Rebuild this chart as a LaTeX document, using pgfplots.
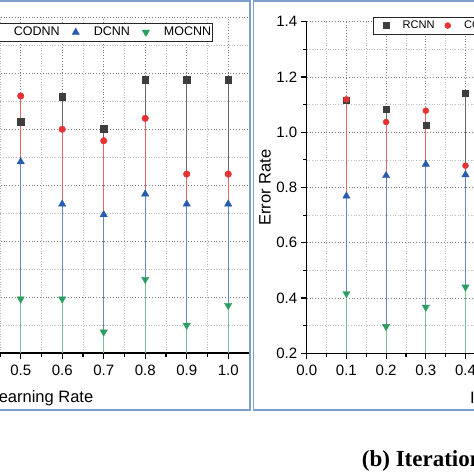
\documentclass[border=0pt]{standalone}
\usepackage{pgfplots}
\pgfplotsset{compat=1.18}
\usepackage{fontspec}
\setmainfont{Liberation Sans}
\newfontfamily\capfont{Liberation Serif}

\definecolor{cgray}{RGB}{62,62,62}
\definecolor{cgrayl}{RGB}{105,105,105}
\definecolor{cred}{RGB}{230,50,52}
\definecolor{credl}{RGB}{226,105,105}
\definecolor{cblue}{RGB}{38,92,172}
\definecolor{cbluel}{RGB}{105,135,188}
\definecolor{cgreen}{RGB}{42,158,96}
\definecolor{cgreenl}{RGB}{122,192,152}
\definecolor{cframe}{RGB}{128,158,205}

\pgfplotstableread{
x    rcnn  codnn dcnn  mocnn
0.5  1.026 1.118 0.883 0.393
0.6  1.116 0.999 0.732 0.393
0.7  1.000 0.958 0.694 0.275
0.8  1.175 1.038 0.768 0.463
0.9  1.175 0.839 0.732 0.299
1.0  1.175 0.839 0.732 0.370
}\lrdata

\pgfplotstableread{
x    rcnn  codnn dcnn  mocnn
0.1  1.117 1.119 0.769 0.416
0.2  1.084 1.037 0.843 0.297
0.3  1.026 1.078 0.884 0.367
0.4  1.143 0.879 0.846 0.440
}\itdata

\pgfplotsset{
  panel/.style={
    scale only axis, anchor=south west,
    xmin=0, xmax=1.1, ymin=0.2, ymax=1.4,
    axis x line*=bottom, axis y line*=left,
    axis line style={line width=1.3pt, black, -},
    xtick={0,0.1,0.2,0.3,0.4,0.5,0.6,0.7,0.8,0.9,1.0},
    ytick={0.2,0.4,0.6,0.8,1.0,1.2,1.4},
    minor x tick num=1, minor y tick num=1,
    tick align=outside,
    major tick length=6pt, minor tick length=3.5pt,
    every tick/.style={black, line width=1.2pt},
    grid=both,
    major grid style={black!50, line width=0.7pt, dash pattern=on 1pt off 1.8pt},
    minor grid style={black!25, line width=0.6pt, dash pattern=on 1pt off 1.6pt},
    /pgf/number format/assume math mode=true,
    /pgf/number format/fixed,
    /pgf/number format/fixed zerofill,
    /pgf/number format/precision=1,
    tick label style={font=\fontsize{15}{17}\selectfont},
    xticklabel style={yshift=-2.5pt},
    label style={font=\fontsize{16.5}{19}\selectfont},
    legend columns=-1,
    legend image code/.code={\path[draw=none,fill=none] (-5pt,-3pt) rectangle (5pt,3pt); \draw[##1] plot coordinates {(0pt,0pt)};},
  },
  stem/.style={ycomb, no markers, line width=0.9pt, forget plot},
  mgray/.style={only marks, mark=square*, mark size=3.3pt, mark options={fill=cgray, draw=cgray, line width=0.4pt}},
  mred/.style={only marks, mark=*, mark size=3.3pt, mark options={fill=cred, draw=cred, line width=0.4pt}},
  mblue/.style={only marks, mark=triangle*, mark size=4.2pt, mark options={fill=cblue, draw=cblue, line width=0.4pt}},
  mgreen/.style={only marks, mark=triangle*, mark size=4.2pt, mark options={fill=cgreen, draw=cgreen, line width=0.4pt, rotate=180}},
}

\begin{document}
\begin{tikzpicture}
\useasboundingbox (0pt,0pt) rectangle (474pt,474pt);
\clip (0pt,0pt) rectangle (474pt,474pt);
\fill[white] (0pt,0pt) rectangle (474pt,474pt);

% left panel (Learning Rate)
\begin{scope}
\clip (-300pt,64pt) rectangle (250pt,474pt);
\begin{axis}[panel,
  at={(-186.8pt,121pt)}, width=456.5pt, height=336pt,
  xlabel={Learning Rate}, ylabel={Error Rate},
  xlabel style={at={(axis description cs:0.5,-0.134)}, anchor=center},
  legend style={at={(0.8758,0.9813)}, anchor=north east,
    font=\fontsize{12.5}{14}\selectfont, draw=black!85, line width=0.8pt, fill=white,
    inner xsep=0.5pt, inner ysep=1.5pt, nodes={inner xsep=1pt},
    /tikz/every odd column/.append style={column sep=12pt},
    /tikz/every even column/.append style={column sep=10pt}},
]
\addplot[stem, cgrayl]  table[x=x, y=rcnn]  {\lrdata};
\addplot[stem, credl]   table[x=x, y=codnn] {\lrdata};
\addplot[stem, cbluel]  table[x=x, y=dcnn]  {\lrdata};
\addplot[stem, cgreenl] table[x=x, y=mocnn] {\lrdata};
\addplot[mgray]  table[x=x, y=rcnn]  {\lrdata}; \addlegendentry{RCNN}
\addplot[mred]   table[x=x, y=codnn] {\lrdata}; \addlegendentry{CODNN}
\addplot[mblue]  table[x=x, y=dcnn]  {\lrdata}; \addlegendentry{DCNN}
\addplot[mgreen] table[x=x, y=mocnn] {\lrdata}; \addlegendentry{MOCNN}
\end{axis}
\end{scope}

% right panel (Iteration)
\begin{scope}
\clip (253.5pt,64pt) rectangle (800pt,474pt);
\begin{axis}[panel,
  at={(306.7pt,120.7pt)}, width=436.7pt, height=331.6pt,
  xlabel={Iteration Number}, ylabel={Error Rate},
  xlabel style={at={(axis description cs:0.374,-0.1348)}, anchor=west, inner sep=0pt},
  ylabel style={at={(axis description cs:-0.0955,0.5)}, anchor=center},
  legend style={at={(0.1511,1.015)}, anchor=north west,
    font=\fontsize{11.1}{13}\selectfont, draw=black!85, line width=0.8pt, fill=white,
    inner xsep=8.3pt, inner ysep=1.8pt, nodes={inner xsep=1pt},
    /tikz/every odd column/.append style={column sep=10.3pt},
    /tikz/every even column/.append style={column sep=7pt}},
  mgray/.append style={mark size=3pt}, mred/.append style={mark size=3pt},
]
\addplot[stem, cgrayl]  table[x=x, y=rcnn]  {\itdata};
\addplot[stem, credl]   table[x=x, y=codnn] {\itdata};
\addplot[stem, cbluel]  table[x=x, y=dcnn]  {\itdata};
\addplot[stem, cgreenl] table[x=x, y=mocnn] {\itdata};
\addplot[mgray]  table[x=x, y=rcnn]  {\itdata}; \addlegendentry{RCNN}
\addplot[mred]   table[x=x, y=codnn] {\itdata}; \addlegendentry{CODNN}
\addplot[mblue]  table[x=x, y=dcnn]  {\itdata}; \addlegendentry{DCNN}
\addplot[mgreen] table[x=x, y=mocnn] {\itdata}; \addlegendentry{MOCNN}
\end{axis}
\end{scope}

% panel frames
\draw[cframe, line width=1.6pt] (-300pt,64pt) rectangle (250pt,473pt);
\draw[cframe, line width=1.6pt] (253.5pt,64pt) rectangle (800pt,473pt);

% caption
\node[anchor=base west, inner sep=0pt, font=\capfont\bfseries\fontsize{23}{26}\selectfont] at (361.7pt,8pt) {(b) Iteration};
\end{tikzpicture}
\end{document}
